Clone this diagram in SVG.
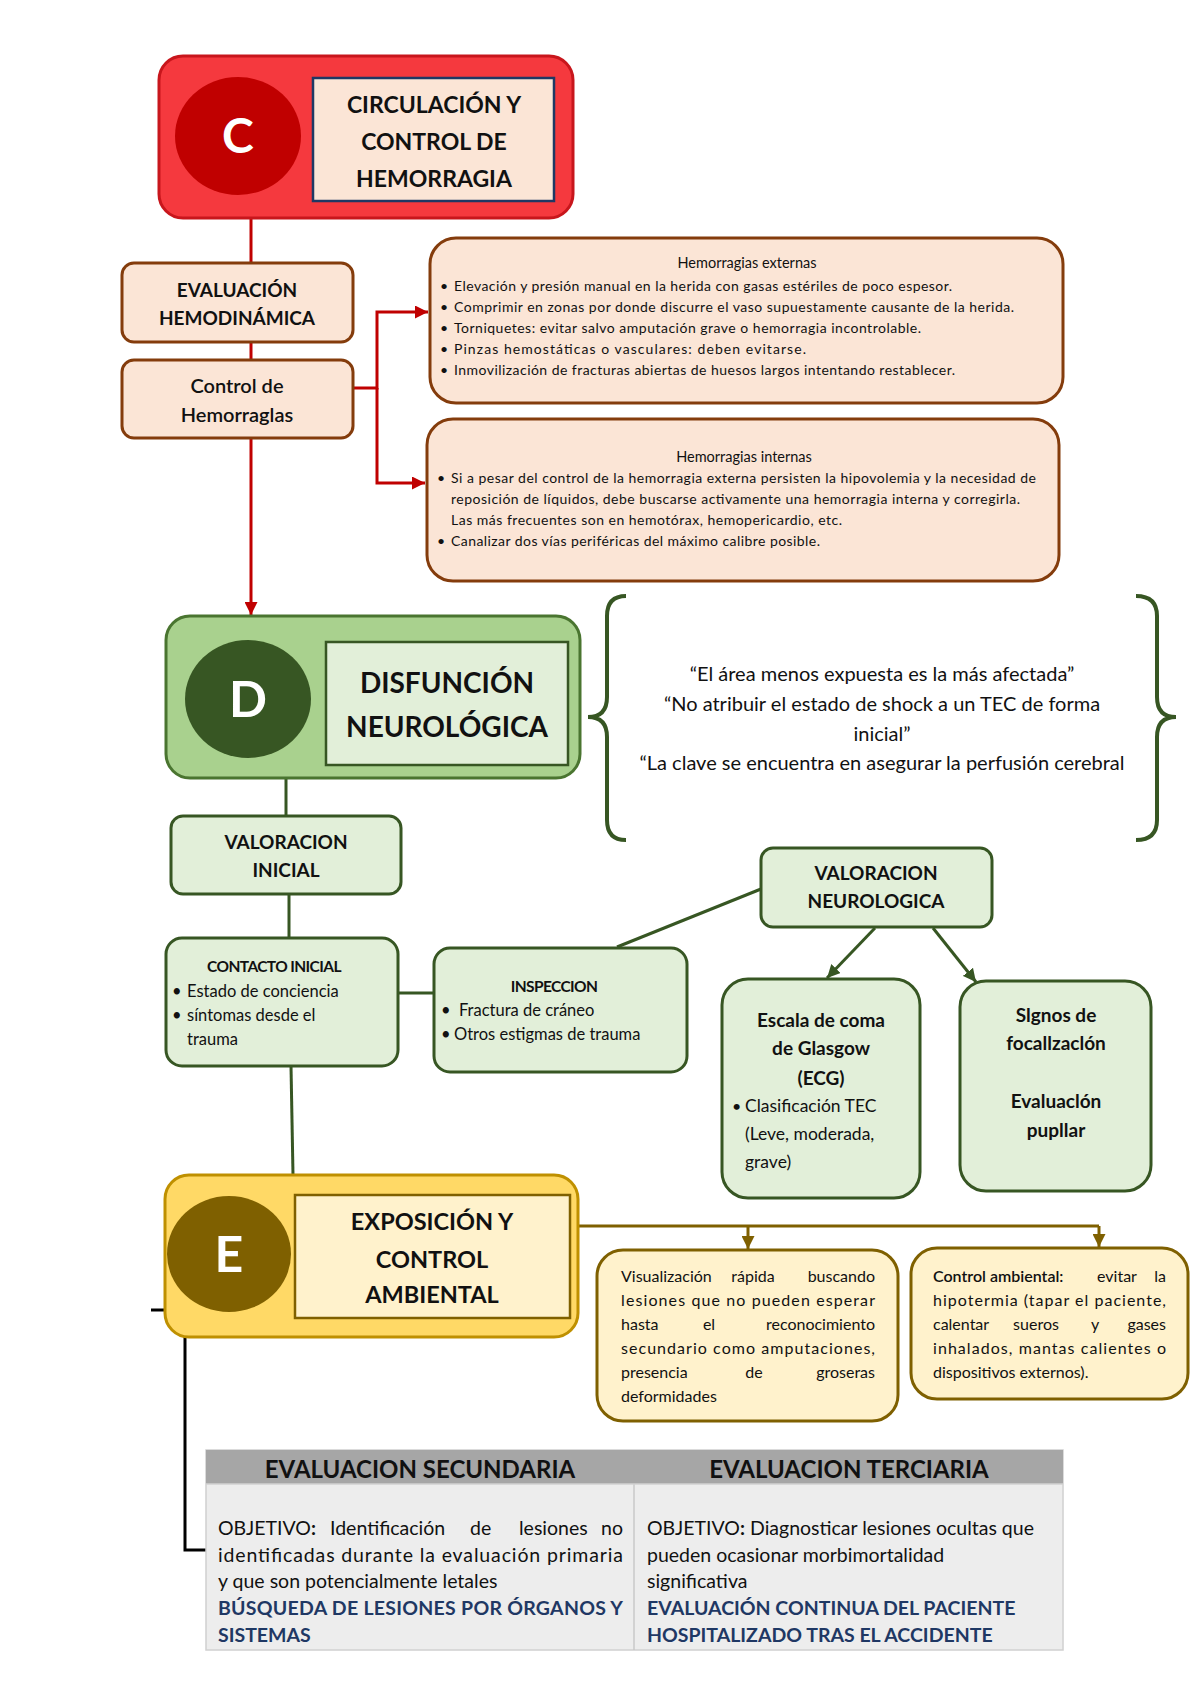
<svg xmlns="http://www.w3.org/2000/svg" width="1200" height="1696" viewBox="0 0 1200 1696">
<defs>
<style>
text{font-family:Lato,"Liberation Sans",sans-serif;fill:#111}
.h{font-weight:bold}
.hc{text-anchor:middle}
.letter{font-weight:bold;fill:#fff;text-anchor:middle}
.peach{fill:#fbe5d6;stroke:#843c0c;stroke-width:3}
.green{fill:#e2efd9;stroke:#375623;stroke-width:3}
.gold{fill:#fff2cc;stroke:#7f6000;stroke-width:3}
.sm{font-size:14px}
.qt{font-size:20px;text-anchor:middle}
.body{font-size:16.5px}
.yb{font-size:16px}
.tb{font-size:19.5px}
.blue{fill:#1f3864;font-weight:bold}
.cr{fill:none;stroke:#c00000;stroke-width:3}
.cg{fill:none;stroke:#375623;stroke-width:3}
.cy{fill:none;stroke:#7f6000;stroke-width:3}
.ck{fill:none;stroke:#000;stroke-width:3}
</style>
<marker id="ar" viewBox="0 0 10 10" refX="10" refY="5" markerWidth="13" markerHeight="13" markerUnits="userSpaceOnUse" orient="auto"><path d="M0,0 L10,5 L0,10 z" fill="#c00000"/></marker>
<marker id="ag" viewBox="0 0 10 10" refX="10" refY="5" markerWidth="13" markerHeight="13" markerUnits="userSpaceOnUse" orient="auto"><path d="M0,0 L10,5 L0,10 z" fill="#375623"/></marker>
<marker id="ay" viewBox="0 0 10 10" refX="10" refY="5" markerWidth="13" markerHeight="13" markerUnits="userSpaceOnUse" orient="auto"><path d="M0,0 L10,5 L0,10 z" fill="#7f6000"/></marker>
</defs>
<rect width="1200" height="1696" fill="#fff"/>

<g id="connectors">
<path class="cr" d="M251,219 V263"/>
<path class="cr" d="M251,342 V360"/>
<path class="cr" d="M251,438 V615" marker-end="url(#ar)"/>
<path class="cr" d="M353,388 H377 V312 H428" marker-end="url(#ar)"/>
<path class="cr" d="M377,388 V483 H425" marker-end="url(#ar)"/>
<path class="cg" d="M286,779 V816"/>
<path class="cg" d="M289,894 V938"/>
<path class="cg" d="M398,993 H434"/>
<path class="cg" d="M617,947 L761,889"/>
<path class="cg" d="M875,928 L827,978" marker-end="url(#ag)"/>
<path class="cg" d="M933,928 L976,982" marker-end="url(#ag)"/>
<path class="cg" d="M291,1066 L293,1175"/>
<path class="cy" d="M579,1226 H1099"/>
<path class="cy" d="M748,1226 V1249" marker-end="url(#ay)"/>
<path class="cy" d="M1099,1226 V1247" marker-end="url(#ay)"/>
<path class="ck" d="M151,1310 H164"/>
<path class="ck" d="M185,1337 V1550 H206"/>
<path fill="none" stroke="#375623" stroke-width="4" d="M626,596 Q607,596 607,616 V697 Q607,717 588,717 Q607,717 607,737 V820 Q607,840 626,840"/>
<path fill="none" stroke="#375623" stroke-width="4" d="M1136,596 Q1157,596 1157,616 V697 Q1157,717 1176,717 Q1157,717 1157,737 V820 Q1157,840 1136,840"/>
</g>

<g id="node-C">
<rect x="159" y="56" width="414" height="162" rx="24" fill="#f5393e" stroke="#c8161c" stroke-width="3"/>
<ellipse cx="238" cy="136" rx="63" ry="59" fill="#c00000"/>
<text class="letter" x="238" y="153" font-size="48">C</text>
<rect x="313" y="78" width="241" height="123" fill="#fbe5d6" stroke="#1f3864" stroke-width="2.5"/>
<text class="h hc" x="434" y="113" font-size="23">CIRCULACIÓN Y</text>
<text class="h hc" x="434" y="150" font-size="23">CONTROL DE</text>
<text class="h hc" x="434" y="187" font-size="23">HEMORRAGIA</text>
</g>

<g id="node-eval-hemo">
<rect class="peach" x="122" y="263" width="231" height="79" rx="12"/>
<text class="h hc" x="237" y="297" font-size="19">EVALUACIÓN</text>
<text class="h hc" x="237" y="325" font-size="19">HEMODINÁMICA</text>
</g>

<g id="node-control-hemo">
<rect class="peach" x="122" y="360" width="231" height="78" rx="12"/>
<text class="hc" x="237" y="393" font-size="20" font-weight="600">Control de</text>
<text class="hc" x="237" y="422" font-size="20" font-weight="600">Hemorraglas</text>
</g>

<g id="node-externas">
<rect class="peach" x="430" y="238" width="633" height="165" rx="26"/>
<text class="hc" x="747" y="268" font-size="14.5">Hemorragias externas</text>
<g class="sm">
<text x="440" y="291">•</text><text x="454" y="291" textLength="498" lengthAdjust="spacing">Elevación y presión manual en la herida con gasas estériles de poco espesor.</text>
<text x="440" y="312">•</text><text x="454" y="312" textLength="560" lengthAdjust="spacing">Comprimir en zonas por donde discurre el vaso supuestamente causante de la herida.</text>
<text x="440" y="333">•</text><text x="454" y="333" textLength="467" lengthAdjust="spacing">Torniquetes: evitar salvo amputación grave o hemorragia incontrolable.</text>
<text x="440" y="354">•</text><text x="454" y="354" textLength="352" lengthAdjust="spacing">Pinzas hemostáticas o vasculares: deben evitarse.</text>
<text x="440" y="375">•</text><text x="454" y="375" textLength="501" lengthAdjust="spacing">Inmovilización de fracturas abiertas de huesos largos intentando restablecer.</text>
</g>
</g>

<g id="node-internas">
<rect class="peach" x="427" y="419" width="632" height="162" rx="26"/>
<text class="hc" x="744" y="462" font-size="14.5">Hemorragias internas</text>
<g class="sm">
<text x="437" y="483">•</text><text x="451" y="483" textLength="585" lengthAdjust="spacing">Si a pesar del control de la hemorragia externa persisten la hipovolemia y la necesidad de</text>
<text x="451" y="504" textLength="569" lengthAdjust="spacing">reposición de líquidos, debe buscarse activamente una hemorragia interna y corregirla.</text>
<text x="451" y="525" textLength="391" lengthAdjust="spacing">Las más frecuentes son en hemotórax, hemopericardio, etc.</text>
<text x="437" y="546">•</text><text x="451" y="546" textLength="369" lengthAdjust="spacing">Canalizar dos vías periféricas del máximo calibre posible.</text>
</g>
</g>

<g id="node-D">
<rect x="166" y="616" width="414" height="162" rx="24" fill="#a9d18e" stroke="#4a7530" stroke-width="3"/>
<ellipse cx="248" cy="699" rx="63" ry="59" fill="#375623"/>
<text class="letter" x="248" y="717" font-size="50">D</text>
<rect x="326" y="642" width="242" height="123" fill="#e2efd9" stroke="#375623" stroke-width="2.5"/>
<text class="h hc" x="447" y="693" font-size="28">DISFUNCIÓN</text>
<text class="h hc" x="447" y="737" font-size="28">NEUROLÓGICA</text>
</g>

<g id="node-quotes">
<text class="qt" x="882" y="681">“El área menos expuesta es la más afectada”</text>
<text class="qt" x="882" y="711">“No atribuir el estado de shock a un TEC de forma</text>
<text class="qt" x="882" y="741">inicial”</text>
<text class="qt" x="882" y="770">“La clave se encuentra en asegurar la perfusión cerebral</text>
</g>

<g id="node-val-inicial">
<rect class="green" x="171" y="816" width="230" height="78" rx="12"/>
<text class="h hc" x="286" y="849" font-size="19">VALORACION</text>
<text class="h hc" x="286" y="877" font-size="19">INICIAL</text>
</g>

<g id="node-contacto">
<rect class="green" x="166" y="938" width="232" height="128" rx="16"/>
<text class="hc" x="274" y="972" font-size="15.5" font-weight="bold" letter-spacing="-0.6">CONTACTO INICIAL</text>
<g class="body">
<text x="172" y="997">•</text><text x="187" y="997">Estado de conciencia</text>
<text x="172" y="1021">•</text><text x="187" y="1021">síntomas desde el</text>
<text x="187" y="1045">trauma</text>
</g>
</g>

<g id="node-inspeccion">
<rect class="green" x="434" y="948" width="253" height="124" rx="16"/>
<text class="hc" x="554" y="992" font-size="15.5" font-weight="bold" letter-spacing="-0.6">INSPECCION</text>
<g class="body">
<text x="441" y="1016">•</text><text x="459" y="1016">Fractura de cráneo</text>
<text x="441" y="1040">•</text><text x="454" y="1040">Otros estigmas de trauma</text>
</g>
</g>

<g id="node-val-neuro">
<rect class="green" x="761" y="848" width="231" height="79" rx="12"/>
<text class="h hc" x="876" y="880" font-size="19">VALORACION</text>
<text class="h hc" x="876" y="908" font-size="19">NEUROLOGICA</text>
</g>

<g id="node-escala">
<rect class="green" x="722" y="979" width="198" height="219" rx="26"/>
<text class="h hc" x="821" y="1027" font-size="19">Escala de coma</text>
<text class="h hc" x="821" y="1055" font-size="19">de Glasgow</text>
<text class="h hc" x="821" y="1085" font-size="19">(ECG)</text>
<text x="732" y="1112" font-size="16">•</text><text x="745" y="1112" font-size="17.5">Clasificación TEC</text>
<text x="745" y="1140" font-size="17.5">(Leve, moderada,</text>
<text x="745" y="1168" font-size="17.5">grave)</text>
</g>

<g id="node-signos">
<rect class="green" x="960" y="981" width="191" height="210" rx="26"/>
<text class="h hc" x="1056" y="1022" font-size="19">Slgnos de</text>
<text class="h hc" x="1056" y="1050" font-size="19">focallzaclón</text>
<text class="h hc" x="1056" y="1108" font-size="19">Evaluaclón</text>
<text class="h hc" x="1056" y="1137" font-size="19">pupllar</text>
</g>

<g id="node-E">
<rect x="165" y="1175" width="413" height="162" rx="24" fill="#ffd966" stroke="#bf9000" stroke-width="3"/>
<ellipse cx="229" cy="1254" rx="62" ry="58" fill="#7f6000"/>
<text class="letter" x="229" y="1272" font-size="50">E</text>
<rect x="295" y="1195" width="275" height="123" fill="#fff2cc" stroke="#7f6000" stroke-width="2.5"/>
<text class="h hc" x="432" y="1230" font-size="23.5">EXPOSICIÓN Y</text>
<text class="h hc" x="432" y="1268" font-size="23.5">CONTROL</text>
<text class="h hc" x="432" y="1303" font-size="23.5">AMBIENTAL</text>
</g>

<g id="node-visualizacion">
<rect class="gold" x="597" y="1250" width="301" height="171" rx="26"/>
<g class="yb">
<text x="621" y="1282">Visualización</text><text x="753" y="1282" text-anchor="middle">rápida</text><text x="875" y="1282" text-anchor="end">buscando</text>
<text x="621" y="1306" textLength="254" lengthAdjust="spacing">lesiones que no pueden esperar</text>
<text x="621" y="1330">hasta</text><text x="709" y="1330" text-anchor="middle">el</text><text x="875" y="1330" text-anchor="end">reconocimiento</text>
<text x="621" y="1354" textLength="254" lengthAdjust="spacing">secundario como amputaciones,</text>
<text x="621" y="1378">presencia</text><text x="754" y="1378" text-anchor="middle">de</text><text x="875" y="1378" text-anchor="end">groseras</text>
<text x="621" y="1402">deformidades</text>
</g>
</g>

<g id="node-control-amb">
<rect class="gold" x="911" y="1248" width="277" height="151" rx="26"/>
<g class="yb">
<text x="933" y="1282" font-weight="600">Control ambiental:</text><text x="1117" y="1282" text-anchor="middle">evitar</text><text x="1166" y="1282" text-anchor="end">la</text>
<text x="933" y="1306" textLength="233" lengthAdjust="spacing">hipotermia (tapar el paciente,</text>
<text x="933" y="1330">calentar</text><text x="1036" y="1330" text-anchor="middle">sueros</text><text x="1095" y="1330" text-anchor="middle">y</text><text x="1166" y="1330" text-anchor="end">gases</text>
<text x="933" y="1354" textLength="233" lengthAdjust="spacing">inhalados, mantas calientes o</text>
<text x="933" y="1378">dispositivos externos).</text>
</g>
</g>

<g id="node-table">
<rect x="206" y="1450" width="857" height="200" fill="#ededed" stroke="#d0d0d0" stroke-width="1.5"/>
<rect x="206" y="1450" width="857" height="34" fill="#a6a6a6"/>
<line x1="634" y1="1484" x2="634" y2="1650" stroke="#c8c8c8" stroke-width="1.5"/>
<line x1="206" y1="1484" x2="1063" y2="1484" stroke="#d0d0d0" stroke-width="1.5"/>
<text class="h hc" x="420" y="1478" font-size="24">EVALUACION SECUNDARIA</text>
<text class="h hc" x="849" y="1478" font-size="24">EVALUACION TERCIARIA</text>
<g class="tb">
<text x="218" y="1535">OBJETIVO<tspan font-weight="bold">:</tspan></text><text x="330" y="1535">Identificación</text><text x="470" y="1535">de</text><text x="519" y="1535">lesiones</text><text x="623" y="1535" text-anchor="end">no</text>
<text x="218" y="1562" textLength="405" lengthAdjust="spacing">identificadas durante la evaluación primaria</text>
<text x="218" y="1588">y que son potencialmente letales</text>
<text class="blue" x="218" y="1615" textLength="405" lengthAdjust="spacing">BÚSQUEDA DE LESIONES POR ÓRGANOS Y</text>
<text class="blue" x="218" y="1642">SISTEMAS</text>
<text x="647" y="1535">OBJETIVO<tspan font-weight="bold">:</tspan> Diagnosticar lesiones ocultas que</text>
<text x="647" y="1562">pueden ocasionar morbimortalidad</text>
<text x="647" y="1588">significativa</text>
<text class="blue" x="647" y="1615">EVALUACIÓN CONTINUA DEL PACIENTE</text>
<text class="blue" x="647" y="1642">HOSPITALIZADO TRAS EL ACCIDENTE</text>
</g>
</g>
</svg>
